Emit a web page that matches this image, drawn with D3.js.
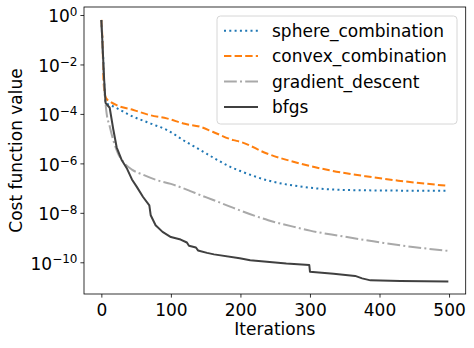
<!DOCTYPE html>
<html>
<head>
<meta charset="utf-8">
<script src="https://cdn.jsdelivr.net/npm/d3@7"></script>
<style>
  html, body { margin: 0; padding: 0; background: #fff; }
  svg { display: block; }
  text { font-family: "DejaVu Sans", sans-serif; fill: #000; }
</style>
</head>
<body>
<svg id="chart" width="474" height="348"></svg>
<script>
// ---- data ----
const seriesNames = ["sphere_combination", "convex_combination", "gradient_descent", "bfgs"];

const sphereIter = [0, 2, 4, 6.5, 13, 23, 41, 71, 95, 120, 143, 163, 190, 199, 238, 285, 334, 343, 420, 499];
const sphereVals = [0.631, 0.0501, 2.0e-3, 2.69e-4, 2.29e-4, 1.66e-4, 8.91e-5, 4.07e-5, 2.19e-5, 7.94e-6, 3.39e-6, 1.58e-6, 6.31e-7, 5.01e-7, 2.09e-7, 1.17e-7, 8.71e-8, 8.51e-8, 7.94e-8, 7.76e-8];

const convexIter = [0, 2, 3, 5, 7, 13, 23, 46, 70, 94, 120, 142, 160, 190, 199, 238, 285, 328, 380, 427, 499];
const convexVals = [0.631, 0.0398, 2.51e-3, 6.31e-4, 4.27e-4, 3.09e-4, 2.19e-4, 1.45e-4, 8.91e-5, 6.61e-5, 3.98e-5, 3.02e-5, 1.91e-5, 8.71e-6, 7.59e-6, 2.51e-6, 1.0e-6, 5.25e-7, 3.02e-7, 2.0e-7, 1.23e-7];

const gradIter = [0, 2, 4, 7, 12, 17, 24, 32, 44, 60, 80, 100, 128, 142, 159, 190, 240, 285, 300, 343, 386, 406, 448, 499];
const gradVals = [0.631, 0.0316, 1.58e-3, 1.41e-4, 3.16e-5, 8.91e-6, 2.51e-6, 1.12e-6, 5.62e-7, 3.47e-7, 2.09e-7, 1.48e-7, 7.59e-8, 5.25e-8, 3.47e-8, 1.58e-8, 5.01e-9, 2.40e-9, 1.91e-9, 1.17e-9, 7.41e-10, 6.03e-10, 4.17e-10, 2.88e-10];

const bfgsIter = [0, 2, 4, 6, 8, 12, 17, 22, 29, 37, 44, 51, 60, 69, 71, 78, 88, 100, 114, 123, 126, 136, 139, 152, 162, 199, 214, 266, 299, 300, 334, 365, 375, 387, 430, 499];
const bfgsVals = [0.631, 0.0398, 2.51e-3, 2.82e-4, 2.40e-4, 1.78e-4, 2.51e-5, 4.47e-6, 1.41e-6, 6.03e-7, 2.24e-7, 1.12e-7, 4.37e-8, 2.0e-8, 7.94e-9, 3.16e-9, 1.70e-9, 1.05e-9, 8.32e-10, 6.31e-10, 4.68e-10, 3.98e-10, 3.02e-10, 2.40e-10, 2.09e-10, 1.45e-10, 1.20e-10, 8.91e-11, 7.76e-11, 4.17e-11, 3.47e-11, 2.82e-11, 2.24e-11, 1.86e-11, 1.74e-11, 1.66e-11];

const xTicks = [0, 100, 200, 300, 400, 500];
const yTickExps = [0, -2, -4, -6, -8, -10];

// ---- layout ----
const W = 474, H = 348;
const L = 84, T = 7, R = 465.7, B = 294;
const svg = d3.select("#chart");

const x = d3.scaleLinear().domain([-24.95, 523.95]).range([L, R]);
const y = d3.scaleLog().domain([Math.pow(10, -11.282), Math.pow(10, 0.3235)]).range([B, T]);

const styles = [
  { color: "#1f77b4", dash: "2,3.3", iter: sphereIter, vals: sphereVals, curve: d3.curveMonotoneX },
  { color: "#ff7f0e", dash: "7.4,3.2", iter: convexIter, vals: convexVals, curve: d3.curveMonotoneX },
  { color: "#a9a9a9", dash: "12.8,3.2,2,3.2", iter: gradIter, vals: gradVals, curve: d3.curveMonotoneX },
  { color: "#404040", dash: null, iter: bfgsIter, vals: bfgsVals, curve: d3.curveLinear }
];

// lines
styles.forEach((s, i) => {
  const pts = s.iter.map((it, k) => [it, s.vals[k]]);
  const line = d3.line().x(d => x(d[0])).y(d => y(d[1])).curve(s.curve);
  svg.append("path")
    .attr("d", line(pts))
    .attr("fill", "none")
    .attr("stroke", s.color)
    .attr("stroke-width", 2)
    .attr("stroke-dasharray", s.dash)
    .attr("stroke-linejoin", "round");
});

// axes
const fs = 17;
const xAxis = d3.axisBottom(x).tickValues(xTicks).tickSize(3.6).tickPadding(4).tickFormat(d3.format("d"));
const gx = svg.append("g").attr("transform", `translate(0,${B})`).call(xAxis);
gx.select(".domain").remove();
gx.selectAll("line").attr("stroke", "#000").attr("stroke-width", 0.8);
gx.selectAll("text").attr("font-size", fs).attr("font-family", "DejaVu Sans").attr("dy", null).attr("y", 22);

const yAxis = d3.axisLeft(y).tickValues(yTickExps.map(e => Math.pow(10, e))).tickSize(3.6).tickFormat("");
const gy = svg.append("g").attr("transform", `translate(${L},0)`).call(yAxis);
gy.select(".domain").remove();
gy.selectAll("line").attr("stroke", "#000").attr("stroke-width", 0.8);

yTickExps.forEach(e => {
  const t = svg.append("text")
    .attr("x", 77.5)
    .attr("y", y(Math.pow(10, e)) + 7.4)
    .attr("text-anchor", "end")
    .attr("font-size", fs);
  t.append("tspan").text("10");
  t.append("tspan").attr("dy", -6.2).attr("font-size", 12).text(e === 0 ? "0" : "\u2212" + Math.abs(e));
});

// frame
svg.append("rect")
  .attr("x", L).attr("y", T).attr("width", R - L).attr("height", B - T)
  .attr("fill", "none").attr("stroke", "#000").attr("stroke-width", 0.8);

// axis labels
svg.append("text").attr("x", (L + R) / 2).attr("y", 335).attr("text-anchor", "middle").attr("font-size", fs).text("Iterations");
svg.append("text").attr("transform", `translate(22,${(T + B) / 2}) rotate(-90)`).attr("text-anchor", "middle").attr("font-size", fs).text("Cost function value");

// legend
const lg = svg.append("g");
lg.append("rect").attr("x", 217).attr("y", 16).attr("width", 240).attr("height", 108).attr("rx", 3.5)
  .attr("fill", "#fff").attr("fill-opacity", 0.8).attr("stroke", "#cccccc").attr("stroke-width", 0.8);
seriesNames.forEach((name, i) => {
  const cy = 30.7 + i * 25.4;
  lg.append("line").attr("x1", 224).attr("x2", 258).attr("y1", cy).attr("y2", cy)
    .attr("stroke", styles[i].color).attr("stroke-width", 2).attr("stroke-dasharray", styles[i].dash);
  lg.append("text").attr("x", 272).attr("y", cy + 6).attr("font-size", fs).text(name);
});
</script>
</body>
</html>
